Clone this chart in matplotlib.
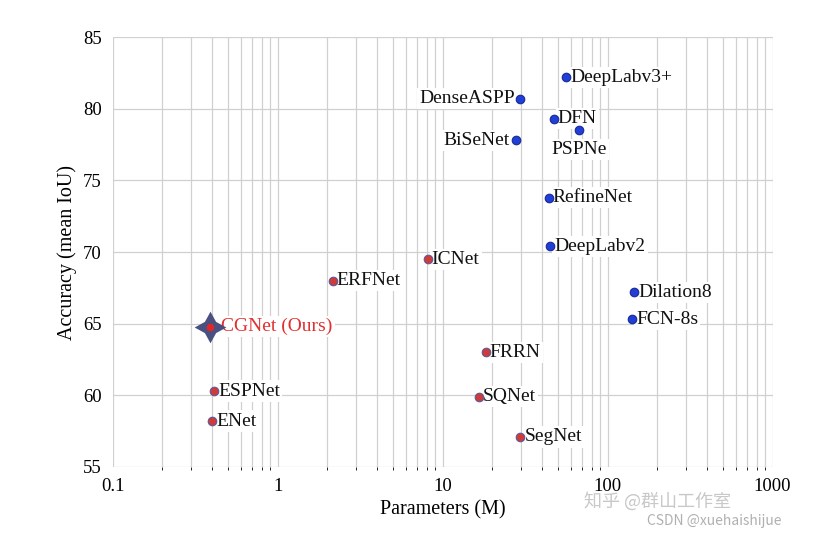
import matplotlib.pyplot as plt

plt.rcParams['font.family'] = ['Liberation Serif', 'DejaVu Serif']

red_names = ['ESPNet', 'ENet', 'ERFNet', 'ICNet', 'FRRN', 'SQNet', 'SegNet']
red_params = [0.41, 0.40, 2.15, 8.1, 18.2, 16.5, 29.5]
red_acc = [60.3, 58.2, 68.0, 69.5, 63.0, 59.9, 57.1]

blue_names = ['DeepLabv3+', 'DenseASPP', 'DFN', 'PSPNe', 'BiSeNet', 'RefineNet',
              'DeepLabv2', 'Dilation8', 'FCN-8s']
blue_params = [56, 29.6, 47, 67, 27.7, 43.8, 45, 144, 140]
blue_acc = [82.2, 80.7, 79.3, 78.5, 77.8, 73.8, 70.4, 67.2, 65.3]

ours_param, ours_acc = 0.39, 64.8

left_labels = {'DenseASPP', 'BiSeNet'}
below_labels = {'PSPNe'}

fig = plt.figure(figsize=(8.29, 5.38), dpi=100)
ax = fig.add_axes([0.136, 0.132, 0.796, 0.799])
ax.set_xscale('log')
ax.set_xlim(0.1, 1000)
ax.set_ylim(55, 85)
ax.grid(True, which='both', axis='x', color='#d0d0d0', lw=0.9)
ax.grid(True, which='major', axis='y', color='#d0d0d0', lw=0.9)
ax.set_axisbelow(True)
for s in ax.spines.values():
    s.set_visible(False)
ax.tick_params(length=0, labelsize=13.5, pad=8)
ax.set_xticks([0.1, 1, 10, 100, 1000])
ax.set_xticklabels(['0.1', '1', '10', '100', '1000'])
ax.set_yticks(range(55, 90, 5))
ax.set_xlabel('Parameters (M)', fontsize=14.5)
ax.set_ylabel('Accuracy (mean IoU)', fontsize=14.5)

box = dict(facecolor='white', edgecolor='none', pad=1.5)
fs = 14

def label(name, x, y, color='#111111'):
    if name in left_labels:
        ax.annotate(name, (x, y), xytext=(-4, 0), textcoords='offset points',
                    ha='right', va='center', fontsize=fs, color=color, bbox=box)
    elif name in below_labels:
        ax.annotate(name, (x, y), xytext=(-20, -14), textcoords='offset points',
                    ha='left', va='center', fontsize=fs, color=color, bbox=box)
    else:
        ax.annotate(name, (x, y), xytext=(3, 0), textcoords='offset points',
                    ha='left', va='center', fontsize=fs, color=color, bbox=box)

ax.scatter(red_params, red_acc, s=38, color='#d03a3a', edgecolor='#5a5a9a', lw=0.8, zorder=4)
ax.scatter(blue_params, blue_acc, s=38, color='#1f3fd8', edgecolor='#1a2a90', lw=0.8, zorder=4)
for n, x, y in zip(red_names, red_params, red_acc):
    label(n, x, y)
for n, x, y in zip(blue_names, blue_params, blue_acc):
    label(n, x, y)

ax.scatter([ours_param], [ours_acc], marker=(4, 1, 0), s=520, color='#4a5080', zorder=4, lw=0)
ax.scatter([ours_param], [ours_acc], s=30, color='#e02828', zorder=5, lw=0)
ax.annotate('CGNet (Ours)', (ours_param, ours_acc), xytext=(8, 0), textcoords='offset points',
            ha='left', va='center', fontsize=fs, color='#e03030', bbox=box)

fig.text(0.705, 0.058, '知乎 @群山工作室', fontsize=13, color='#c8c8c8',
         family=['Noto Sans CJK SC', 'DejaVu Sans'])
fig.text(0.78, 0.025, 'CSDN @xuehaishijue', fontsize=10, color='#b0b0b0',
         family=['Noto Sans CJK SC', 'DejaVu Sans'])

fig.savefig('out.png', dpi=100)
